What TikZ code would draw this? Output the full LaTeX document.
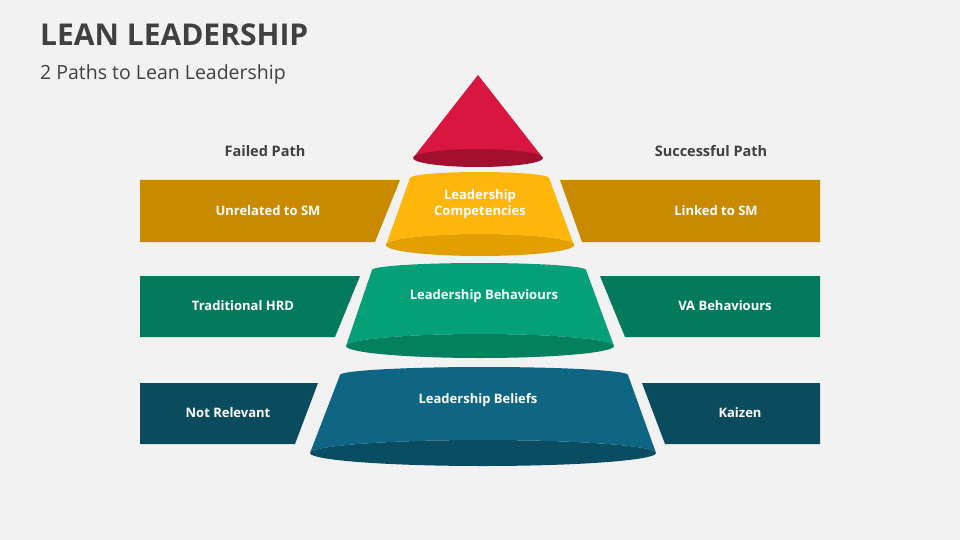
\documentclass[tikz,border=0pt]{standalone}
\usepackage{fontspec}
\setmainfont{Open Sans}
\definecolor{bg}{HTML}{F2F2F2}
\definecolor{ttl}{HTML}{404040}
\definecolor{red1}{HTML}{D9163F}\definecolor{red2}{HTML}{A3102F}
\definecolor{yel1}{HTML}{FFB60A}\definecolor{yel2}{HTML}{E39E00}\definecolor{yelb}{HTML}{C98A00}
\definecolor{grn1}{HTML}{05A077}\definecolor{grn2}{HTML}{03805E}\definecolor{grnb}{HTML}{037A5C}
\definecolor{blu1}{HTML}{0E6684}\definecolor{blu2}{HTML}{0A4D63}\definecolor{blub}{HTML}{0B4B5E}
\begin{document}
\begin{tikzpicture}[x=1pt,y=-1pt,
  lbl/.style={text=white,font=\bfseries\fontsize{13}{16.5}\selectfont,align=center},
  hdr/.style={text=ttl,font=\bfseries\fontsize{14.5}{18}\selectfont}]
\fill[bg] (0,0) rectangle (960,540);
\node[anchor=west,text=ttl,font=\bfseries\fontsize{30}{36}\selectfont,inner sep=0] (t) at (40,35) {LEAN LEADERSHIP};
\node[anchor=west,text=ttl,font=\fontsize{19.5}{24}\selectfont,inner sep=0] (s) at (40,74) {2 Paths to Lean Leadership};
\node[hdr] (hf) at (265,151) {Failed Path};
\node[hdr] (hs) at (711,151) {Successful Path};
% bands
\fill[yelb] (140,180)--(400,180)--(375,242)--(140,242)--cycle;
\fill[yelb] (560,180)--(820,180)--(820,242)--(582,242)--cycle;
\fill[grnb] (140,276)--(360,276)--(335,337)--(140,337)--cycle;
\fill[grnb] (600,276)--(820,276)--(820,337)--(625,337)--cycle;
\fill[blub] (140,383)--(318,383)--(295,444)--(140,444)--cycle;
\fill[blub] (642,383)--(820,383)--(820,444)--(665,444)--cycle;
\node[lbl] (l1) at (268,211) {Unrelated to SM};
\node[lbl] (r1) at (716,211) {Linked to SM};
\node[lbl] (l2) at (243,306) {Traditional HRD};
\node[lbl] (r2) at (725,306) {VA Behaviours};
\node[lbl] (l3) at (228,413) {Not Relevant};
\node[lbl] (r3) at (740,413) {Kaizen};
% cone
\fill[red1] (478,75)--(543,158)--(413,158)--cycle;
\fill[red2] (478,158) ellipse[x radius=65,y radius=9];
% tier 2
\fill[yel1] (410,178)--(386,245) arc[start angle=180,end angle=360,x radius=94,y radius=11]--(549,178)--cycle;
\fill[yel1] (479.5,178) ellipse[x radius=69.5,y radius=6];
\fill[yel2] (480,245) ellipse[x radius=94,y radius=11];
\node[lbl] (c2) at (480,204) {Leadership\\Competencies};
% tier 3
\fill[grn1] (372,270)--(346,346) arc[start angle=180,end angle=360,x radius=134,y radius=12]--(586,270)--cycle;
\fill[grn1] (479,270) ellipse[x radius=107,y radius=7];
\fill[grn2] (480,346) ellipse[x radius=134,y radius=12];
\node[lbl] (c3) at (484,296) {Leadership Behaviours};
% tier 4
\fill[blu1] (340,375)--(310,453) arc[start angle=180,end angle=360,x radius=173,y radius=13]--(628,375)--cycle;
\fill[blu1] (484,375) ellipse[x radius=144,y radius=8];
\fill[blu2] (483,453) ellipse[x radius=173,y radius=13];
\node[lbl] (c4) at (478,400) {Leadership Beliefs};
\end{tikzpicture}
\end{document}
